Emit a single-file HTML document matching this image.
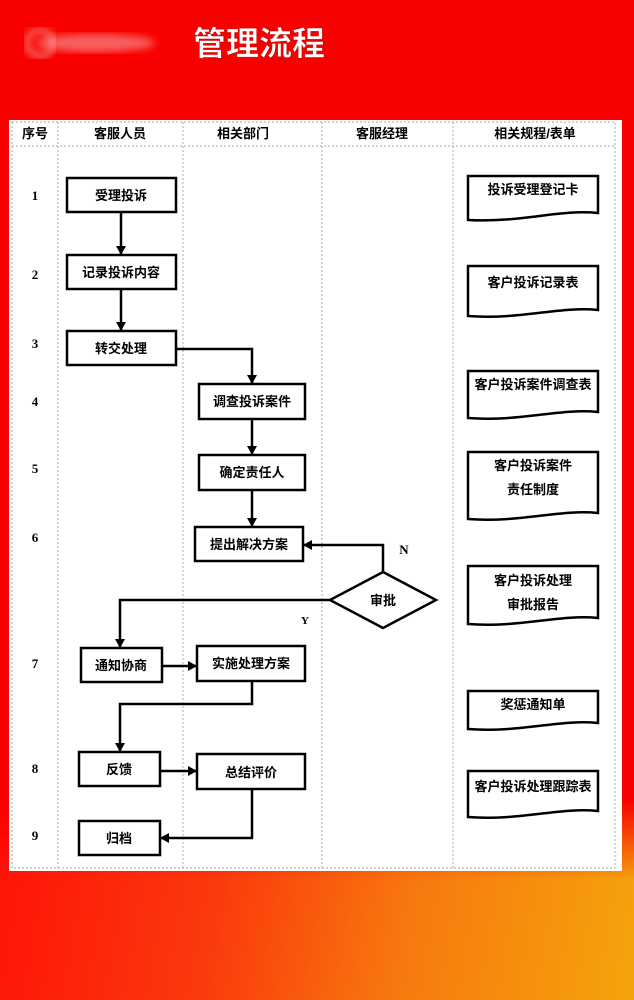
<!DOCTYPE html>
<html><head><meta charset="utf-8"><style>
html,body{margin:0;padding:0;}
body{width:634px;height:1000px;position:relative;overflow:hidden;background:#f90000;font-family:"Liberation Sans","Noto Sans CJK SC",sans-serif;}
.bot{position:absolute;left:0;top:800px;width:634px;height:200px;background:linear-gradient(100deg,#ff1208 0%,#fa3a0c 35%,#f77a0e 65%,#f5a40c 100%);}
.fade{position:absolute;left:0;top:800px;width:634px;height:80px;background:linear-gradient(180deg,#f90000 0%,rgba(249,0,0,0) 100%);}
svg{position:absolute;left:0;top:0;}
</style></head><body>
<div class="bot"></div><div class="fade"></div>
<svg width="634" height="1000" viewBox="0 0 634 1000" font-family="Liberation Sans, Noto Sans CJK SC, sans-serif">
<defs>
<marker id="a" markerWidth="10" markerHeight="10" refX="8" refY="5" orient="auto" markerUnits="userSpaceOnUse"><path d="M0,0 L9,5 L0,10 Z" fill="#000"/></marker>
<filter id="bl"><feGaussianBlur stdDeviation="4"/></filter>
</defs>
<ellipse cx="40" cy="43" rx="13" ry="13" fill="none" stroke="#f4c0b0" stroke-width="3" filter="url(#bl)"/>
<ellipse cx="95" cy="43" rx="60" ry="9" fill="#f6a0a0" opacity="0.6" filter="url(#bl)"/>
<text x="193" y="55" font-size="33" font-weight="bold" fill="#fff" stroke="#b00" stroke-width="0.5">管理流程</text>
<rect x="9" y="120" width="613" height="751" fill="#fff"/>
<g stroke="#aaa" stroke-width="1" stroke-dasharray="2,2" fill="none">
<rect x="12" y="122" width="603" height="746"/>
<line x1="12" y1="146" x2="615" y2="146"/>
<line x1="58" y1="122" x2="58" y2="868"/>
<line x1="183" y1="122" x2="183" y2="868"/>
<line x1="322" y1="122" x2="322" y2="868"/>
<line x1="453" y1="122" x2="453" y2="868"/>
</g>
<g font-size="13" font-weight="bold" text-anchor="middle" fill="#000">
<text x="35" y="138">序号</text><text x="120" y="138">客服人员</text><text x="243" y="138">相关部门</text><text x="382" y="138">客服经理</text><text x="535" y="138">相关规程/表单</text>
</g>
<g font-size="13" text-anchor="middle" fill="#000" font-family="Liberation Serif, serif" font-weight="bold">
<text x="35" y="200">1</text><text x="35" y="279">2</text><text x="35" y="348">3</text><text x="35" y="406">4</text><text x="35" y="473">5</text><text x="35" y="542">6</text><text x="35" y="668">7</text><text x="35" y="773">8</text><text x="35" y="840">9</text>
<text x="404" y="554">N</text><text x="305" y="624" font-size="11">Y</text>
</g>
<g fill="#fff" stroke="#000" stroke-width="2.5">
<rect x="67" y="178" width="109" height="34"/>
<rect x="67" y="255" width="109" height="34"/>
<rect x="67" y="331" width="109" height="34"/>
<rect x="199" y="384" width="106" height="35"/>
<rect x="199" y="455" width="106" height="35"/>
<rect x="195" y="527" width="108" height="34"/>
<path d="M383,572 L436,600 L383,628 L330,600 Z"/>
<rect x="81" y="648" width="81" height="34"/>
<rect x="197" y="646" width="108" height="35"/>
<rect x="79" y="752" width="81" height="34"/>
<rect x="197" y="754" width="108" height="35"/>
<rect x="79" y="821" width="81" height="34"/>
</g>
<g fill="#fff" stroke="#000" stroke-width="2.5">
<path d="M468,176 H598 V213 C560,209 520,223 468,220 Z"/>
<path d="M468,266 H598 V310 C560,306 520,320 468,316 Z"/>
<path d="M468,371 H598 V412 C560,408 520,422 468,418 Z"/>
<path d="M468,452 H598 V513 C560,509 520,523 468,519 Z"/>
<path d="M468,566 H598 V618 C560,614 520,628 468,624 Z"/>
<path d="M468,691 H598 V723 C560,719 520,733 468,729 Z"/>
<path d="M468,771 H598 V811 C560,807 520,821 468,817 Z"/>
</g>
<g font-size="13" font-weight="bold" text-anchor="middle" fill="#000">
<text x="121" y="200">受理投诉</text>
<text x="121" y="277">记录投诉内容</text>
<text x="121" y="353">转交处理</text>
<text x="252" y="406">调查投诉案件</text>
<text x="252" y="477">确定责任人</text>
<text x="249" y="549">提出解决方案</text>
<text x="383" y="605">审批</text>
<text x="121" y="670">通知协商</text>
<text x="251" y="668">实施处理方案</text>
<text x="119" y="774">反馈</text>
<text x="251" y="777">总结评价</text>
<text x="119" y="843">归档</text>
<text x="533" y="194">投诉受理登记卡</text>
<text x="533" y="287">客户投诉记录表</text>
<text x="533" y="389">客户投诉案件调查表</text>
<text x="533" y="470">客户投诉案件</text>
<text x="533" y="494">责任制度</text>
<text x="533" y="585">客户投诉处理</text>
<text x="533" y="609">审批报告</text>
<text x="533" y="709">奖惩通知单</text>
<text x="533" y="791">客户投诉处理跟踪表</text>
</g>
<g stroke="#000" stroke-width="2.5" fill="none" marker-end="url(#a)">
<path d="M121,212 V254"/>
<path d="M121,289 V330"/>
<path d="M176,349 H252 V383"/>
<path d="M252,419 V454"/>
<path d="M252,490 V526"/>
<path d="M383,572 V545 H304"/>
<path d="M330,600 H120 V647"/>
<path d="M162,666 H196"/>
<path d="M252,681 V704 H120 V751"/>
<path d="M160,771 H196"/>
<path d="M252,789 V838 H161"/>
</g>
</svg>
</body></html>
